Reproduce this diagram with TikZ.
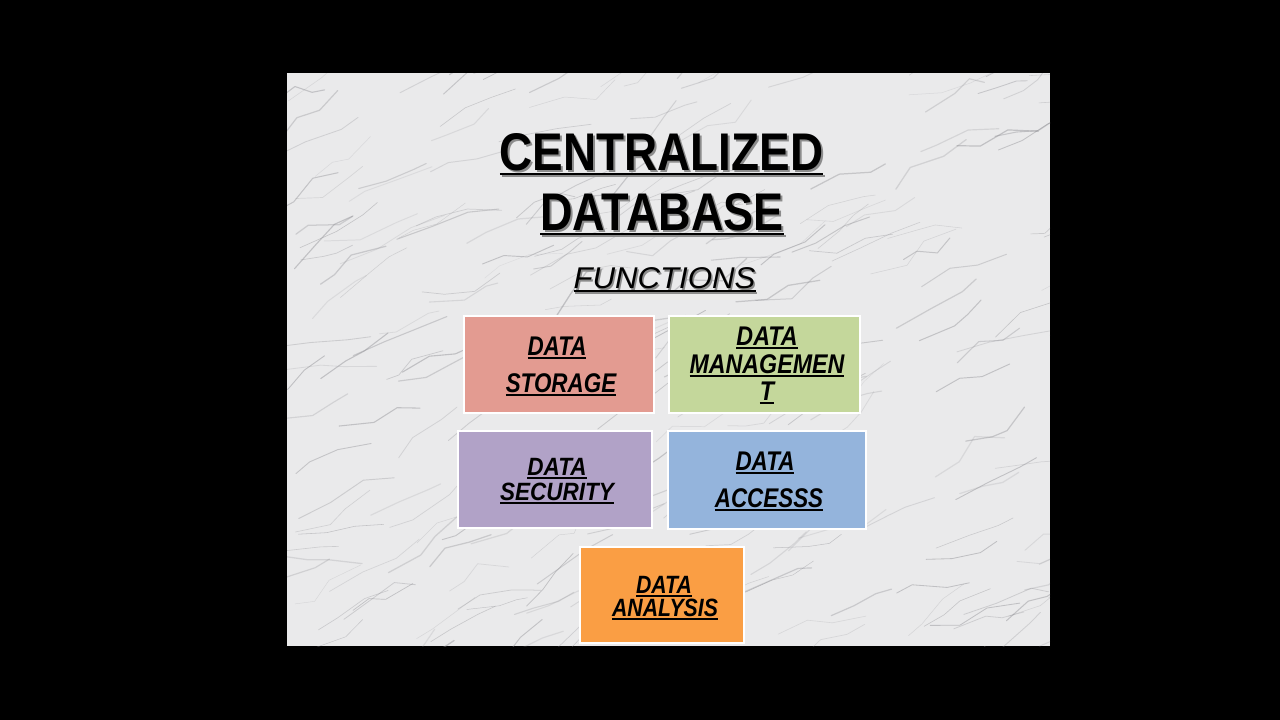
\documentclass[tikz,border=0pt]{standalone}
\usepackage{fontspec}
\setmainfont{Liberation Sans}
\usepackage{graphicx}
\definecolor{marble}{RGB}{234,234,235}
\definecolor{vein}{RGB}{140,140,145}
\definecolor{cstore}{RGB}{227,155,145}
\definecolor{cmanage}{RGB}{196,215,155}
\definecolor{csecur}{RGB}{177,162,199}
\definecolor{caccess}{RGB}{148,180,220}
\definecolor{canaly}{RGB}{250,158,68}
% underlined box: #1 gap, #2 rule thickness, #3 content
\newcommand\ulbox[3]{\leavevmode\vtop{\hbox{#3}\kern #1\hrule height #2}}
\newcommand\sx[2]{\scalebox{#1}[1]{#2}}
\tikzset{
  fnbox/.style={draw=white, line width=2pt, inner sep=0pt},
  ttl/.style={anchor=base, inner sep=0pt, font=\fontsize{53}{60}\selectfont\bfseries},
  sub/.style={anchor=base, inner sep=0pt, font=\fontsize{30}{34}\selectfont\itshape},
  lbl/.style={anchor=base, inner sep=0pt, font=\fontsize{27}{30}\selectfont\bfseries\itshape},
  lbls/.style={anchor=base, inner sep=0pt, font=\fontsize{25}{28}\selectfont\bfseries\itshape},
  shadow/.style={text=black!45},
}
\begin{document}
\begin{tikzpicture}[x=1pt,y=-1pt]
\useasboundingbox (0,0) rectangle (1280,720);
\fill[black] (0,0) rectangle (1280,720);
% marble slide
\fill[marble] (287,73) rectangle (1050,646);
\begin{scope}
\clip (287,73) rectangle (1050,646);
\pgfmathsetseed{11}
\foreach \i in {1,...,260}{
  \pgfmathsetmacro{\xa}{260+rnd*820}
  \pgfmathsetmacro{\ya}{73+rnd*620}
  \pgfmathsetmacro{\xb}{\xa+12+rnd*25}
  \pgfmathsetmacro{\yb}{\ya-6-rnd*22+rnd*12}
  \pgfmathsetmacro{\xc}{\xb+12+rnd*25}
  \pgfmathsetmacro{\yc}{\yb-6-rnd*22+rnd*12}
  \pgfmathsetmacro{\xd}{\xc+10+rnd*25}
  \pgfmathsetmacro{\yd}{\yc-4-rnd*22+rnd*12}
  \pgfmathsetmacro{\op}{0.15+rnd*0.3}
  \pgfmathsetmacro{\lw}{0.4+rnd*0.9}
  \draw[vein, line width=\lw pt, opacity=\op, line join=round, line cap=round]
    (\xa,\ya) -- (\xb,\yb) -- (\xc,\yc) -- (\xd,\yd);
}
\end{scope}
% title with shadow
\node[ttl, shadow] (t1s) at (663.5,172) {\ulbox{2pt}{2.5pt}{\sx{0.865}{CENTRALIZED}}};
\node[ttl] (t1) at (661.5,170) {\ulbox{2pt}{2.5pt}{\sx{0.865}{CENTRALIZED}}};
\node[ttl, shadow] (t2s) at (664,232) {\ulbox{2pt}{2.5pt}{\sx{0.85}{DATABASE}}};
\node[ttl] (t2) at (662,230) {\ulbox{2pt}{2.5pt}{\sx{0.85}{DATABASE}}};
\node[sub, shadow] (t3s) at (666,290) {\ulbox{2pt}{2pt}{\sx{1.04}{FUNCTIONS}}};
\node[sub] (t3) at (664.5,288) {\ulbox{2pt}{2pt}{\sx{1.04}{FUNCTIONS}}};
% boxes
\node[fnbox, fill=cstore, minimum width=190pt, minimum height=97pt] (store) at (559,364.5) {};
\node[fnbox, fill=cmanage, minimum width=191pt, minimum height=97pt] (manage) at (764.5,364.5) {};
\node[fnbox, fill=csecur, minimum width=194pt, minimum height=97pt] (secur) at (555,479.5) {};
\node[fnbox, fill=caccess, minimum width=198pt, minimum height=98pt] (access) at (767,480) {};
\node[fnbox, fill=canaly, minimum width=164pt, minimum height=96pt] (analy) at (662,595) {};
% labels
\node[lbl] (store1) at (557,355) {\ulbox{2pt}{1.5pt}{\sx{0.83}{DATA}}};
\node[lbl] (store2) at (561,392) {\ulbox{2pt}{1.5pt}{\sx{0.83}{STORAGE}}};
\node[lbl] (manage1) at (767,345) {\ulbox{2pt}{1.5pt}{\sx{0.86}{DATA}}};
\node[lbl] (manage2) at (767,373) {\ulbox{2pt}{1.5pt}{\sx{0.86}{MANAGEMEN}}};
\node[lbl] (manage3) at (767,400) {\ulbox{2pt}{1.5pt}{\sx{0.86}{T}}};
\node[lbls] (secur1) at (557,475) {\ulbox{2pt}{1.5pt}{\sx{0.9}{DATA}}};
\node[lbls] (secur2) at (557,500) {\ulbox{2pt}{1.5pt}{\sx{0.9}{SECURITY}}};
\node[lbl] (access1) at (765,470) {\ulbox{2pt}{1.5pt}{\sx{0.83}{DATA}}};
\node[lbl] (access2) at (769,507) {\ulbox{2pt}{1.5pt}{\sx{0.83}{ACCESSS}}};
\node[lbls] (analy1) at (664,593) {\ulbox{2pt}{1.5pt}{\sx{0.85}{DATA}}};
\node[lbls] (analy2) at (665,616) {\ulbox{2pt}{1.5pt}{\sx{0.85}{ANALYSIS}}};
\end{tikzpicture}
\end{document}
